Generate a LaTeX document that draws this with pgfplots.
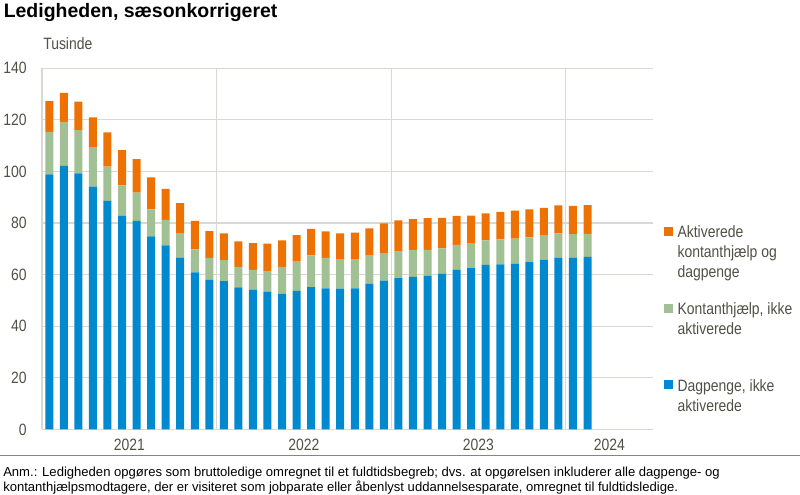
\documentclass[border=0pt]{standalone}
\usepackage{fontspec}
\setmainfont{Liberation Sans}
\newfontfamily\narrowfont[FakeStretch=0.85]{Liberation Sans}
\usepackage{pgfplots}
\usepackage{pgfplotstable}
\pgfplotsset{compat=1.18}

\definecolor{dagc}{RGB}{0,137,207}
\definecolor{kontc}{RGB}{161,192,147}
\definecolor{aktc}{RGB}{238,114,3}
\definecolor{gridc}{RGB}{217,217,211}
\definecolor{labc}{RGB}{80,80,70}
\definecolor{sepc}{RGB}{125,135,145}

% month index (0 = jan 2021), dagpenge, kontanthjaelp, aktiverede (tusinde)
\pgfplotstableread{
x dag kont akt
0 98.9 16.5 11.9
1 102.2 17.0 11.3
2 99.3 16.7 11.1
3 94.1 15.3 11.6
4 88.6 13.3 13.3
5 82.9 11.7 13.7
6 80.9 10.9 13.0
7 74.9 10.4 12.4
8 71.4 9.8 12.1
9 66.5 9.4 11.8
10 60.9 8.9 11.1
11 58.0 8.5 10.4
12 57.5 8.1 10.4
13 55.1 7.9 9.9
14 54.2 7.7 10.3
15 53.3 8.1 10.6
16 52.6 10.4 10.3
17 53.7 11.6 10.0
18 55.2 12.3 10.3
19 54.7 11.8 10.3
20 54.6 11.4 10.0
21 54.7 11.3 10.3
22 56.4 11.0 10.6
23 57.7 10.7 11.5
24 58.7 10.5 11.9
25 59.2 10.4 11.9
26 59.5 10.1 12.3
27 60.3 9.9 11.8
28 61.9 9.7 11.2
29 62.5 9.7 10.7
30 63.8 9.5 10.5
31 64.0 9.7 10.6
32 64.3 9.7 10.8
33 64.9 9.6 10.8
34 65.7 9.4 10.8
35 66.5 9.5 10.9
36 66.5 9.2 11.0
37 66.9 8.9 11.2
}\ledig

\begin{document}
\begin{tikzpicture}[x=0.75pt,y=0.75pt]
\path[use as bounding box] (0,0) rectangle (800,495);
\begin{axis}[
  at={(31.5pt,49.125pt)}, anchor=south west,
  scale only axis, width=458.25pt, height=270.9pt,
  xmin=-0.5, xmax=41.5, ymin=0, ymax=140,
  enlargelimits=false,
  ybar stacked, bar width=0.55,
  axis line style={draw=none},
  major tick length=0pt, minor tick length=0pt,
  ytick={0,20,...,140},
  xtick={5.5,17.5,29.5,38.5},
  xticklabels={2021,2022,2023,2024},
  minor xtick={-0.5,11.5,23.5,35.5},
  ymajorgrids=true, xminorgrids=true, xmajorgrids=false,
  major grid style={gridc, line width=0.9pt},
  minor grid style={gridc, line width=0.9pt},
  /pgf/number format/assume math mode=true,
  tick label style={font=\narrowfont\fontsize{12.3}{14}\selectfont, text=labc},
  yticklabel style={anchor=east, inner sep=0pt, xshift=-11.25pt},
  xticklabel style={anchor=north, inner sep=0pt, yshift=-7.3pt},
  legend style={at={(axis description cs:1.018,0.5645)}, anchor=north west,
    draw=none, fill=none, inner sep=0pt, outer sep=0pt,
    row sep=0pt, column sep=4pt,
    font=\color{labc}\narrowfont\fontsize{12.3}{14}\selectfont,
    cells={anchor=base west},
    nodes={inner sep=0pt, text height=9pt, text depth=6pt}},
]
\addplot[fill=dagc, draw=none, forget plot] table[x=x, y=dag] {\ledig};
\addplot[fill=kontc, draw=none, forget plot] table[x=x, y=kont] {\ledig};
\addplot[fill=aktc, draw=none, forget plot] table[x=x, y=akt] {\ledig};

\addlegendimage{legend image code/.code={\fill[aktc] (0pt,2.05pt) rectangle (5.8pt,7.85pt);}}
\addlegendentry{Aktiverede}
\addlegendimage{legend image code/.code={}}
\addlegendentry{kontanthjælp og}
\addlegendimage{legend image code/.code={}}
\addlegendentry[text depth=19pt]{dagpenge}
\addlegendimage{legend image code/.code={\fill[kontc] (0pt,2.05pt) rectangle (5.8pt,7.85pt);}}
\addlegendentry{Kontanthjælp, ikke}
\addlegendimage{legend image code/.code={}}
\addlegendentry[text depth=33.2pt]{aktiverede}
\addlegendimage{legend image code/.code={\fill[dagc] (0pt,2.05pt) rectangle (5.8pt,7.85pt);}}
\addlegendentry{Dagpenge, ikke}
\addlegendimage{legend image code/.code={}}
\addlegendentry{aktiverede}
\end{axis}

\node[anchor=base west, inner sep=0pt, font=\bfseries\fontsize{14.6}{17}\selectfont] at (3.5,477.7) {Ledigheden, sæsonkorrigeret};
\node[anchor=base west, inner sep=0pt, font=\narrowfont\fontsize{12.3}{14}\selectfont, text=labc] at (43,445) {Tusinde};
\draw[sepc, line width=1pt] (0,39.5) -- (800,39.5);
\node[anchor=base west, inner sep=0pt, font=\fontsize{9.8}{11}\selectfont] at (3,18.3) {Anm.: Ledigheden opgøres som bruttoledige omregnet til et fuldtidsbegreb; dvs. at opgørelsen inkluderer alle dagpenge- og};
\node[anchor=base west, inner sep=0pt, font=\fontsize{9.8}{11}\selectfont] at (3,3.8) {kontanthjælpsmodtagere, der er visiteret som jobparate eller åbenlyst uddannelsesparate, omregnet til fuldtidsledige.};
\end{tikzpicture}
\end{document}
